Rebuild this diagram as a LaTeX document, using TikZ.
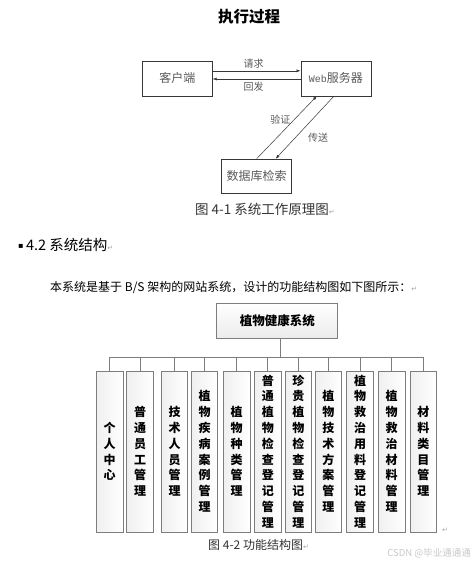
\documentclass[tikz,border=0pt]{standalone}
\usepackage{fontspec}
\usepackage{xcolor}
\usepackage{tikz}
\usetikzlibrary{arrows.meta, positioning, calc}
\newfontfamily\cjk{Noto Sans CJK SC}
\newfontfamily\symfont{DejaVu Sans}
\newfontfamily\webmono{Liberation Mono}
\definecolor{textgray}{RGB}{90, 90, 90}
\definecolor{linegray}{RGB}{55, 55, 55}
\definecolor{framegray}{RGB}{125, 125, 125}
\definecolor{markgray}{RGB}{165, 165, 165}
\definecolor{wmgray}{RGB}{200, 200, 200}
\newcommand{\pmark}{{\symfont\color{markgray}\fontsize{7}{7}\selectfont ↵}}

\begin{document}
\begin{tikzpicture}[x=1pt, y=-1pt,
  procbox/.style={draw=linegray, line width=0.6pt, fill=white,
                  minimum width=70pt, minimum height=35pt, inner sep=0pt,
                  font=\cjk\fontsize{12}{12}\selectfont, text=textgray},
  flow/.style={-{Latex[length=4pt, width=3pt]}, line width=0.5pt, color=linegray},
  flowlabel/.style={font=\cjk\fontsize{10}{10}\selectfont, text=textgray, inner sep=1pt},
  rootbox/.style={draw=framegray, line width=0.8pt, top color=white, bottom color=gray!15,
                  minimum width=121pt, minimum height=35pt, inner sep=0pt,
                  font=\cjk\bfseries\fontsize{12.5}{12.5}\selectfont},
  funcbox/.style={draw=framegray, line width=0.8pt, left color=gray!12, right color=white,
                  minimum width=26.5pt, minimum height=161pt, inner sep=0pt, align=center,
                  font=\cjk\bfseries\fontsize{12}{15.8}\selectfont},
  tree/.style={draw=framegray, line width=0.8pt},
  caption/.style={font=\cjk\fontsize{13.5}{13.5}\selectfont, text=black!80, inner sep=0pt}
]
  \useasboundingbox[fill=white] (0,0) rectangle (474,563);

  % execution process
  \node[font=\cjk\bfseries\fontsize{15.5}{15.5}\selectfont] (title) at (249,17) {执行过程};
  \node[procbox] (client) at (177.3,78.3) {客户端};
  \node[procbox] (web) at (335.8,78.3) {{\webmono\fontsize{10}{10}\selectfont Web}服务器};
  \node[procbox, minimum height=34pt] (db) at (256.7,176) {数据库检索};

  \draw[flow] ([yshift=7.5pt]client.east) -- node[flowlabel, above=1pt, xshift=-3pt]{请求} ([yshift=7.5pt]web.west);
  \draw[flow] ([yshift=-0.7pt]web.west) -- node[flowlabel, below=1.5pt, xshift=-3pt]{回发} ([yshift=-0.7pt]client.east);
  \draw[flow] (db.north) -- node[flowlabel, pos=0.63, left=3pt]{验证} ([xshift=-19pt]web.south);
  \draw[flow] ([xshift=-1.8pt]web.south) -- node[flowlabel, pos=0.67, right=12pt]{传送} ([xshift=19pt]db.north);

  \node[caption, anchor=west] (cap1) at (195,209) {图 4-1 系统工作原理图\pmark};

  % section text
  \node[font=\cjk\fontsize{14.5}{14.5}\selectfont, anchor=west, inner sep=0pt] (sec) at (18,245)
    {\raisebox{2.5pt}{\symfont\fontsize{8}{8}\selectfont ▪}\,4.2 系统结构\pmark};
  \node[font=\cjk\fontsize{12}{12}\selectfont, anchor=west, inner sep=0pt] (intro) at (50,288)
    {本系统是基于 B/S 架构的网站系统，设计的功能结构图如下图所示：\pmark};

  % function structure
  \node[rootbox] (root) at (277.3,320.5) {植物健康系统};
  \coordinate (bus) at (280,357);

  \node[funcbox] (personal)  at (109.7,451.5) {个\\人\\中\\心};
  \node[funcbox] (staff)     at (140.0,451.5) {普\\通\\员\\工\\管\\理};
  \node[funcbox] (techstaff) at (174.5,451.5) {技\\术\\人\\员\\管\\理};
  \node[funcbox] (disease)   at (204.5,451.5) {植\\物\\疾\\病\\案\\例\\管\\理};
  \node[funcbox] (species)   at (236.7,451.5) {植\\物\\种\\类\\管\\理};
  \node[funcbox] (normcheck) at (267.8,451.5) {普\\通\\植\\物\\检\\查\\登\\记\\管\\理};
  \node[funcbox] (rarecheck) at (298.3,451.5) {珍\\贵\\植\\物\\检\\查\\登\\记\\管\\理};
  \node[funcbox] (scheme)    at (328.3,451.5) {植\\物\\技\\术\\方\\案\\管\\理};
  \node[funcbox] (usage)     at (360.0,451.5) {植\\物\\救\\治\\用\\料\\登\\记\\管\\理};
  \node[funcbox] (material)  at (391.7,451.5) {植\\物\\救\\治\\材\\料\\管\\理};
  \node[funcbox] (category)  at (423.3,451.5) {材\\料\\类\\目\\管\\理};

  \draw[tree] (bus |- root.south) -- (bus);
  \draw[tree] (bus) -| (personal.north);
  \draw[tree] (bus) -| (staff.north);
  \draw[tree] (bus) -| (techstaff.north);
  \draw[tree] (bus) -| (disease.north);
  \draw[tree] (bus) -| (species.north);
  \draw[tree] (bus) -| (normcheck.north);
  \draw[tree] (bus) -| (rarecheck.north);
  \draw[tree] (bus) -| (scheme.north);
  \draw[tree] (bus) -| (usage.north);
  \draw[tree] (bus) -| (material.north);
  \draw[tree] (bus) -| (category.north);

  \node (endmark) at (445,530) {\pmark};
  \node[caption, font=\cjk\fontsize{12}{12}\selectfont, anchor=west] (cap2) at (208,545) {图 4-2 功能结构图\pmark};
  \node[font=\cjk\fontsize{9.5}{9.5}\selectfont, text=wmgray, anchor=east, inner sep=0pt] (wm) at (471,553) {CSDN @毕业通通通};
\end{tikzpicture}
\end{document}
